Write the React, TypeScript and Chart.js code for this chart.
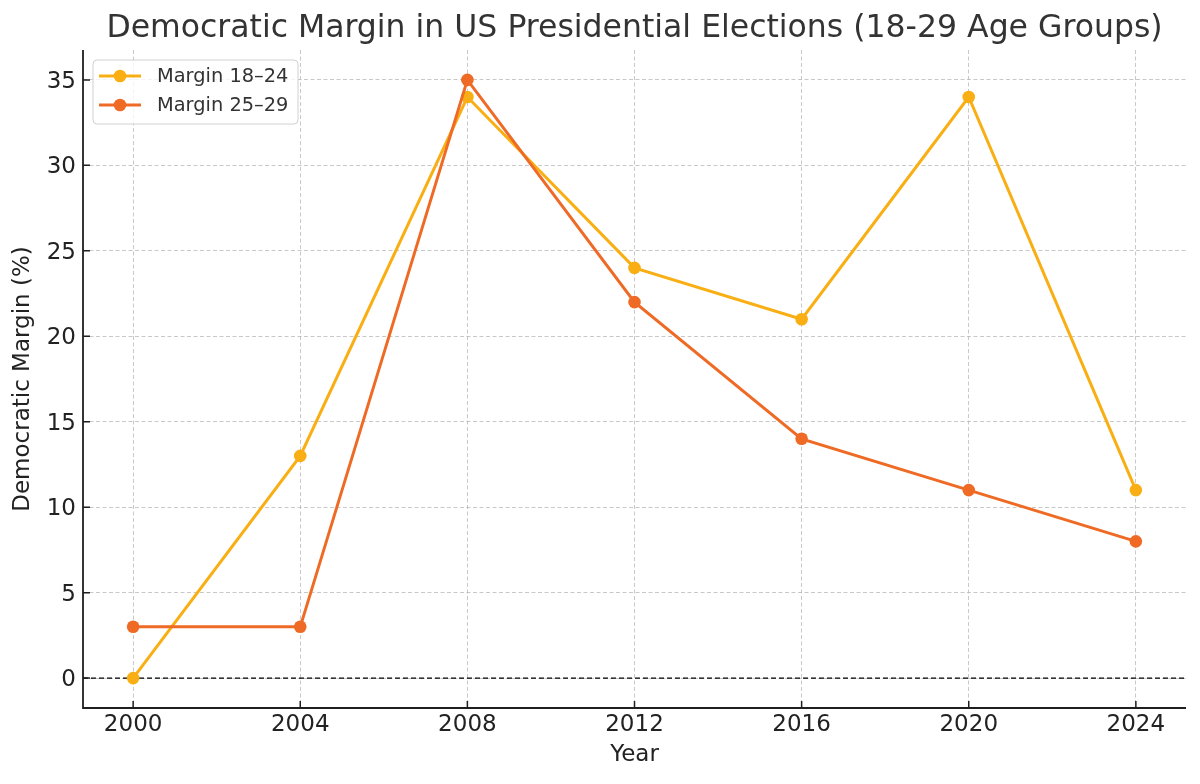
import React, { useEffect, useRef } from "react";
import { Chart, registerables } from "chart.js";

Chart.register(...registerables);

// Election years and Democratic margin (percentage points) by age group
const years = [2000, 2004, 2008, 2012, 2016, 2020, 2024];
const margin18to24 = [0, 13, 34, 24, 21, 34, 11];
const margin25to29 = [3, 3, 35, 22, 14, 11, 8];
const yTicks = [0, 5, 10, 15, 20, 25, 30, 35];

const seriesLabels = ["Margin 18–24", "Margin 25–29"];
const titleText = "Democratic Margin in US Presidential Elections (18-29 Age Groups)";

const YELLOW = "#F9AF14";
const ORANGE = "#EE6A25";
const SPINE = "#1f1f1f";
const FONT = "'DejaVu Sans', sans-serif";

const decorPlugin = {
  id: "decor",
  beforeDatasetsDraw(chart: any) {
    const { ctx, chartArea, scales } = chart;
    const y0 = scales.y.getPixelForValue(0);
    ctx.save();
    ctx.strokeStyle = "#000";
    ctx.lineWidth = 1.4;
    ctx.setLineDash([5, 3]);
    ctx.beginPath();
    ctx.moveTo(chartArea.left, y0);
    ctx.lineTo(chartArea.right, y0);
    ctx.stroke();
    ctx.restore();
  },
  afterDraw(chart: any) {
    const { ctx, chartArea, scales } = chart;
    const { left, right, top, bottom } = chartArea;
    ctx.save();

    // axis lines (left and bottom only) with inward ticks
    ctx.strokeStyle = SPINE;
    ctx.lineWidth = 1.8;
    ctx.setLineDash([]);
    ctx.beginPath();
    ctx.moveTo(left, top);
    ctx.lineTo(left, bottom);
    ctx.lineTo(right, bottom);
    ctx.stroke();
    ctx.lineWidth = 1.5;
    ctx.beginPath();
    years.forEach((yr) => {
      const px = scales.x.getPixelForValue(yr);
      ctx.moveTo(px, bottom);
      ctx.lineTo(px, bottom - 7);
    });
    yTicks.forEach((v) => {
      const py = scales.y.getPixelForValue(v);
      ctx.moveTo(left, py);
      ctx.lineTo(left + 7, py);
    });
    ctx.stroke();

    // title
    ctx.fillStyle = "#333333";
    ctx.font = `31.5px ${FONT}`;
    ctx.textAlign = "center";
    ctx.textBaseline = "alphabetic";
    ctx.fillText(titleText, (left + right) / 2, 37);

    // legend box
    const bx = 93, by = 60, bw = 205, bh = 64, r = 4;
    ctx.beginPath();
    ctx.moveTo(bx + r, by);
    ctx.lineTo(bx + bw - r, by);
    ctx.arcTo(bx + bw, by, bx + bw, by + r, r);
    ctx.lineTo(bx + bw, by + bh - r);
    ctx.arcTo(bx + bw, by + bh, bx + bw - r, by + bh, r);
    ctx.lineTo(bx + r, by + bh);
    ctx.arcTo(bx, by + bh, bx, by + bh - r, r);
    ctx.lineTo(bx, by + r);
    ctx.arcTo(bx, by, bx + r, by, r);
    ctx.closePath();
    ctx.fillStyle = "rgba(255,255,255,0.8)";
    ctx.fill();
    ctx.strokeStyle = "#d0d0d0";
    ctx.lineWidth = 1;
    ctx.stroke();

    const colors = [YELLOW, ORANGE];
    const rows = [76, 105];
    seriesLabels.forEach((label, i) => {
      const ry = rows[i];
      ctx.strokeStyle = colors[i];
      ctx.lineWidth = 3;
      ctx.beginPath();
      ctx.moveTo(99, ry);
      ctx.lineTo(141, ry);
      ctx.stroke();
      ctx.fillStyle = colors[i];
      ctx.beginPath();
      ctx.arc(120, ry, 6.3, 0, Math.PI * 2);
      ctx.fill();
      ctx.fillStyle = "#333333";
      ctx.font = `19.4px ${FONT}`;
      ctx.textAlign = "left";
      ctx.textBaseline = "middle";
      ctx.fillText(label, 157, ry + 1);
    });
    ctx.restore();
  },
};

export default function App() {
  const canvasRef = useRef<HTMLCanvasElement | null>(null);

  useEffect(() => {
    if (!canvasRef.current) return;
    const gridColor = "rgba(176,176,176,0.7)";
    const tickFont = { family: FONT, size: 23, lineHeight: 1 };
    const chart = new Chart(canvasRef.current, {
      type: "line",
      data: {
        datasets: [
          {
            label: seriesLabels[0],
            data: years.map((x, i) => ({ x, y: margin18to24[i] })),
            borderColor: YELLOW,
            backgroundColor: YELLOW,
            borderWidth: 3,
            pointRadius: 6.3,
            pointBorderWidth: 0,
            pointHoverRadius: 6.3,
            tension: 0,
            order: 1,
          },
          {
            label: seriesLabels[1],
            data: years.map((x, i) => ({ x, y: margin25to29[i] })),
            borderColor: ORANGE,
            backgroundColor: ORANGE,
            borderWidth: 3,
            pointRadius: 6.3,
            pointBorderWidth: 0,
            pointHoverRadius: 6.3,
            tension: 0,
            order: 0,
          },
        ],
      },
      options: {
        responsive: false,
        animation: false,
        layout: { padding: { top: 50, right: 14, left: 0, bottom: 0 } },
        plugins: {
          legend: { display: false },
          title: { display: false },
          tooltip: { enabled: false },
        },
        scales: {
          x: {
            type: "linear",
            min: 1998.8,
            max: 2025.2,
            afterBuildTicks: (scale: any) => {
              scale.ticks = years.map((v) => ({ value: v }));
            },
            afterFit: (scale: any) => {
              scale.height = 76;
            },
            grid: { color: gridColor, lineWidth: 1, drawTicks: false },
            border: { display: false, dash: [4, 2.5] },
            ticks: {
              padding: 6,
              color: "#222222",
              font: tickFont,
              maxRotation: 0,
              autoSkip: false,
              callback: (v: any) => String(v),
            },
            title: {
              display: true,
              text: "Year",
              color: "#222222",
              font: tickFont,
              padding: { top: 0, bottom: 17 },
            },
          },
          y: {
            type: "linear",
            min: -1.75,
            max: 36.75,
            afterBuildTicks: (scale: any) => {
              scale.ticks = yTicks.map((v) => ({ value: v }));
            },
            afterFit: (scale: any) => {
              scale.width = 83;
            },
            grid: { color: gridColor, lineWidth: 1, drawTicks: false },
            border: { display: false, dash: [4, 2.5] },
            ticks: {
              padding: 7,
              labelOffset: 2,
              color: "#222222",
              font: tickFont,
              autoSkip: false,
              callback: (v: any) => String(v),
            },
            title: {
              display: true,
              text: "Democratic Margin (%)",
              color: "#222222",
              font: tickFont,
              padding: { top: 12, bottom: 0 },
            },
          },
        },
      },
      plugins: [decorPlugin],
    });
    return () => chart.destroy();
  }, []);

  return (
    <div style={{ position: "absolute", left: 0, top: 0, width: 1200, height: 784, background: "#fff" }}>
      <canvas ref={canvasRef} width={1200} height={784} style={{ display: "block" }} />
    </div>
  );
}
